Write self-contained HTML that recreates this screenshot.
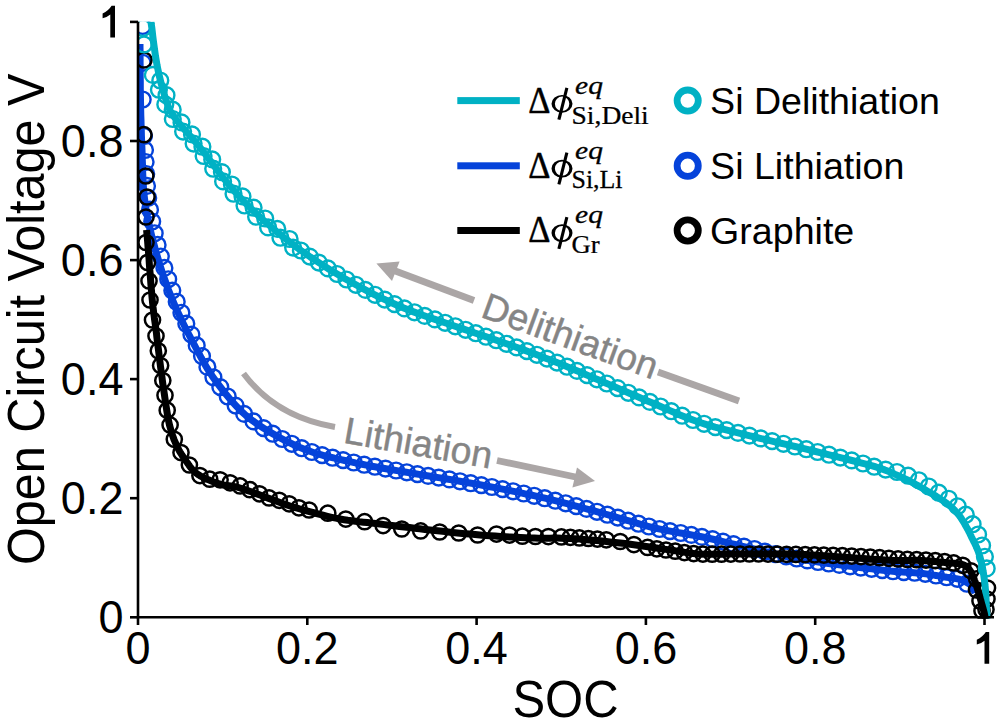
<!DOCTYPE html>
<html><head><meta charset="utf-8"><title>OCV vs SOC</title>
<style>html,body{margin:0;padding:0;background:#fff;width:1000px;height:720px;overflow:hidden}svg{display:block}</style>
</head><body>
<svg width="1000" height="720" viewBox="0 0 1000 720">
<defs><clipPath id="pc"><rect x="138" y="21.7" width="862" height="597"/></clipPath></defs>
<rect width="1000" height="720" fill="#fff"/>
<g clip-path="url(#pc)">
<g fill="none" stroke="#0543DA" stroke-width="2.40"><circle cx="142.7" cy="26.0" r="7.9"/><circle cx="142.7" cy="62.8" r="7.9"/><circle cx="142.7" cy="99.5" r="7.9"/><circle cx="144.0" cy="136.0" r="7.9"/><circle cx="145.0" cy="150.0" r="7.9"/><circle cx="145.6" cy="162.0" r="7.9"/><circle cx="146.2" cy="174.0" r="7.9"/><circle cx="147.0" cy="185.9" r="7.9"/><circle cx="148.2" cy="197.9" r="7.9"/><circle cx="150.0" cy="209.7" r="7.9"/><circle cx="152.2" cy="221.5" r="7.9"/><circle cx="154.7" cy="233.3" r="7.9"/><circle cx="157.6" cy="244.9" r="7.9"/><circle cx="160.8" cy="256.5" r="7.9"/><circle cx="164.4" cy="267.9" r="7.9"/><circle cx="168.2" cy="279.3" r="7.9"/><circle cx="172.3" cy="290.6" r="7.9"/><circle cx="176.7" cy="301.8" r="7.9"/><circle cx="181.4" cy="312.8" r="7.9"/><circle cx="186.3" cy="323.7" r="7.9"/><circle cx="191.4" cy="334.6" r="7.9"/><circle cx="196.7" cy="345.4" r="7.9"/><circle cx="202.0" cy="356.1" r="7.9"/><circle cx="207.4" cy="366.9" r="7.9"/><circle cx="213.4" cy="377.3" r="7.9"/><circle cx="220.3" cy="387.1" r="7.9"/><circle cx="227.7" cy="396.5" r="7.9"/><circle cx="235.6" cy="405.6" r="7.9"/><circle cx="244.2" cy="413.9" r="7.9"/><circle cx="253.5" cy="421.4" r="7.9"/><circle cx="263.5" cy="428.1" r="7.9"/><circle cx="272.7" cy="433.7" r="7.9"/><circle cx="282.2" cy="439.0" r="7.9"/><circle cx="291.8" cy="443.8" r="7.9"/><circle cx="301.7" cy="448.2" r="7.9"/><circle cx="311.8" cy="452.0" r="7.9"/><circle cx="322.1" cy="455.1" r="7.9"/><circle cx="332.6" cy="457.7" r="7.9"/><circle cx="343.1" cy="460.1" r="7.9"/><circle cx="353.7" cy="462.5" r="7.9"/><circle cx="364.2" cy="464.7" r="7.9"/><circle cx="374.9" cy="466.7" r="7.9"/><circle cx="385.5" cy="468.6" r="7.9"/><circle cx="396.1" cy="470.5" r="7.9"/><circle cx="406.8" cy="472.3" r="7.9"/><circle cx="417.4" cy="474.1" r="7.9"/><circle cx="428.1" cy="475.9" r="7.9"/><circle cx="438.7" cy="477.6" r="7.9"/><circle cx="449.4" cy="479.4" r="7.9"/><circle cx="460.0" cy="481.3" r="7.9"/><circle cx="470.7" cy="483.2" r="7.9"/><circle cx="481.3" cy="485.1" r="7.9"/><circle cx="491.9" cy="487.0" r="7.9"/><circle cx="502.5" cy="489.1" r="7.9"/><circle cx="513.1" cy="491.3" r="7.9"/><circle cx="523.7" cy="493.5" r="7.9"/><circle cx="534.2" cy="495.8" r="7.9"/><circle cx="544.7" cy="498.2" r="7.9"/><circle cx="555.3" cy="500.7" r="7.9"/><circle cx="565.7" cy="503.3" r="7.9"/><circle cx="576.2" cy="506.1" r="7.9"/><circle cx="586.6" cy="508.9" r="7.9"/><circle cx="597.0" cy="511.8" r="7.9"/><circle cx="607.4" cy="514.7" r="7.9"/><circle cx="617.8" cy="517.6" r="7.9"/><circle cx="628.1" cy="520.7" r="7.9"/><circle cx="638.5" cy="523.7" r="7.9"/><circle cx="648.9" cy="526.5" r="7.9"/><circle cx="659.5" cy="529.0" r="7.9"/><circle cx="670.0" cy="531.1" r="7.9"/><circle cx="680.7" cy="533.0" r="7.9"/><circle cx="691.3" cy="534.9" r="7.9"/><circle cx="701.9" cy="536.9" r="7.9"/><circle cx="712.5" cy="539.1" r="7.9"/><circle cx="723.0" cy="541.6" r="7.9"/><circle cx="733.5" cy="544.1" r="7.9"/><circle cx="744.0" cy="546.6" r="7.9"/><circle cx="754.5" cy="549.0" r="7.9"/><circle cx="765.0" cy="551.6" r="7.9"/><circle cx="775.5" cy="554.1" r="7.9"/><circle cx="786.1" cy="556.4" r="7.9"/><circle cx="796.7" cy="558.5" r="7.9"/><circle cx="807.3" cy="560.4" r="7.9"/><circle cx="818.0" cy="562.0" r="7.9"/><circle cx="828.7" cy="563.5" r="7.9"/><circle cx="839.4" cy="564.9" r="7.9"/><circle cx="850.1" cy="566.3" r="7.9"/><circle cx="860.8" cy="567.6" r="7.9"/><circle cx="871.6" cy="568.8" r="7.9"/><circle cx="882.3" cy="570.1" r="7.9"/><circle cx="893.0" cy="571.2" r="7.9"/><circle cx="903.8" cy="572.1" r="7.9"/><circle cx="914.6" cy="572.7" r="7.9"/><circle cx="925.3" cy="573.8" r="7.9"/><circle cx="936.0" cy="575.5" r="7.9"/><circle cx="946.6" cy="577.2" r="7.9"/><circle cx="957.3" cy="578.8" r="7.9"/><circle cx="966.9" cy="583.7" r="7.9"/></g>
<path d="M140.0,44.0 L140.0,47.4 L140.1,51.7 L140.1,56.9 L140.1,62.7 L140.2,68.9 L140.2,75.3 L140.3,81.9 L140.3,88.3 L140.4,94.4 L140.5,100.0 L140.6,105.2 L140.7,110.4 L140.8,115.4 L141.0,120.4 L141.1,125.4 L141.3,130.3 L141.4,135.2 L141.6,140.1 L141.8,145.0 L142.0,150.0 L142.2,155.0 L142.3,160.0 L142.5,165.0 L142.6,170.0 L142.8,175.0 L143.0,180.0 L143.3,185.0 L143.6,190.0 L144.1,195.0 L144.7,200.0 L145.4,205.0 L146.2,210.0 L147.1,215.0 L148.1,220.0 L149.2,225.0 L150.3,230.0 L151.5,235.0 L152.8,240.0 L154.1,245.0 L155.5,250.0 L156.9,255.0 L158.4,260.0 L159.9,265.0 L161.5,270.0 L163.1,275.0 L164.9,280.0 L166.7,285.0 L168.5,290.0 L170.5,295.0 L172.5,300.0 L174.7,305.1 L177.0,310.3 L179.4,315.5 L181.9,320.8 L184.5,326.0 L187.1,331.2 L189.7,336.2 L192.2,341.0 L194.7,345.6 L197.0,350.0 L199.2,354.0 L201.2,357.8 L203.2,361.4 L205.1,364.7 L207.0,368.0 L209.0,371.1 L211.0,374.2 L213.2,377.4 L215.5,380.6 L218.0,384.0 L220.7,387.5 L223.4,391.0 L226.2,394.6 L229.1,398.1 L232.2,401.7 L235.4,405.2 L238.7,408.7 L242.3,412.2 L246.0,415.5 L250.0,418.8 L254.3,421.9 L258.8,425.1 L263.7,428.3 L268.7,431.4 L273.9,434.4 L279.1,437.3 L284.4,440.1 L289.7,442.8 L294.9,445.2 L300.0,447.5 L305.0,449.5 L309.9,451.3 L314.8,453.0 L319.8,454.4 L324.7,455.8 L329.6,457.0 L334.6,458.2 L339.7,459.3 L344.8,460.5 L350.0,461.7 L355.3,462.9 L360.8,464.0 L366.3,465.1 L371.9,466.2 L377.5,467.2 L383.1,468.2 L388.7,469.2 L394.2,470.1 L399.7,471.1 L405.0,472.0 L410.2,472.9 L415.3,473.8 L420.4,474.6 L425.4,475.5 L430.3,476.3 L435.2,477.1 L440.2,477.9 L445.1,478.7 L450.0,479.5 L455.0,480.4 L460.0,481.3 L465.0,482.2 L470.0,483.0 L475.0,483.9 L480.0,484.8 L485.0,485.8 L490.0,486.7 L495.0,487.6 L500.0,488.6 L505.0,489.6 L510.0,490.6 L515.0,491.6 L520.0,492.7 L525.0,493.8 L530.0,494.8 L535.0,495.9 L540.0,497.1 L545.0,498.2 L550.0,499.4 L555.0,500.6 L560.0,501.8 L565.0,503.1 L570.0,504.4 L575.0,505.8 L580.0,507.1 L585.0,508.5 L590.0,509.9 L595.0,511.2 L600.0,512.6 L605.0,514.0 L610.0,515.4 L615.0,516.8 L620.0,518.3 L625.0,519.8 L630.0,521.2 L635.0,522.7 L640.0,524.1 L645.0,525.5 L650.0,526.8 L655.0,528.0 L660.0,529.1 L665.1,530.2 L670.2,531.1 L675.2,532.1 L680.3,533.0 L685.4,533.8 L690.4,534.7 L695.3,535.6 L700.2,536.5 L705.0,537.5 L709.7,538.5 L714.2,539.5 L718.6,540.5 L722.9,541.6 L727.2,542.6 L731.5,543.6 L735.9,544.7 L740.4,545.8 L745.1,546.9 L750.0,548.0 L755.0,549.1 L760.0,550.3 L765.0,551.5 L770.1,552.8 L775.3,554.0 L780.7,555.2 L786.3,556.5 L792.2,557.7 L798.4,558.9 L805.0,560.0 L812.2,561.1 L820.1,562.3 L828.6,563.5 L837.4,564.6 L846.2,565.8 L855.0,566.9 L863.5,567.9 L871.5,568.8 L878.7,569.7 L885.0,570.4 L890.4,571.0 L895.0,571.4 L899.1,571.8 L902.7,572.0 L905.9,572.2 L908.9,572.4 L911.7,572.5 L914.4,572.7 L917.1,572.9 L920.0,573.2 L923.0,573.5 L925.8,573.9 L928.5,574.3 L931.2,574.7 L933.8,575.1 L936.2,575.5 L938.5,575.9 L940.8,576.3 L943.0,576.7 L945.0,577.0 L946.9,577.3 L948.7,577.5 L950.4,577.8 L951.9,578.0 L953.4,578.2 L954.8,578.4 L956.1,578.6 L957.4,578.9 L958.7,579.2 L960.0,579.6 L961.3,580.0 L962.6,580.5 L963.9,581.1 L965.1,581.6 L966.3,582.2 L967.4,582.9 L968.5,583.5 L969.5,584.2 L970.4,584.8 L971.2,585.5 L971.9,586.2 L972.5,587.0 L973.0,587.9 L973.4,588.7 L973.8,589.6 L974.1,590.5 L974.4,591.3 L974.6,592.0 L974.8,592.5 L975.0,593.0" fill="none" stroke="#0543DA" stroke-width="7" stroke-linejoin="round"/>
<g fill="none" stroke="#000000" stroke-width="2.50"><circle cx="144.0" cy="60.0" r="7.6"/><circle cx="144.0" cy="134.7" r="7.6"/><circle cx="145.8" cy="176.0" r="7.6"/><circle cx="147.0" cy="197.0" r="7.6"/><circle cx="146.0" cy="217.0" r="7.6"/><circle cx="146.0" cy="242.5" r="7.6"/><circle cx="147.5" cy="262.5" r="7.6"/><circle cx="149.0" cy="281.0" r="7.6"/><circle cx="150.0" cy="300.0" r="7.6"/><circle cx="152.5" cy="320.0" r="7.6"/><circle cx="156.0" cy="336.0" r="7.6"/><circle cx="158.3" cy="350.8" r="7.6"/><circle cx="160.6" cy="365.6" r="7.6"/><circle cx="162.8" cy="380.5" r="7.6"/><circle cx="165.0" cy="395.3" r="7.6"/><circle cx="167.2" cy="410.2" r="7.6"/><circle cx="170.1" cy="424.9" r="7.6"/><circle cx="174.3" cy="439.3" r="7.6"/><circle cx="181.0" cy="452.6" r="7.6"/><circle cx="189.4" cy="465.0" r="7.6"/><circle cx="199.9" cy="475.6" r="7.6"/><circle cx="209.7" cy="479.2" r="7.6"/><circle cx="220.1" cy="479.8" r="7.6"/><circle cx="230.1" cy="482.8" r="7.6"/><circle cx="240.1" cy="485.9" r="7.6"/><circle cx="249.9" cy="489.7" r="7.6"/><circle cx="259.5" cy="493.8" r="7.6"/><circle cx="269.1" cy="497.9" r="7.6"/><circle cx="279.3" cy="500.3" r="7.6"/><circle cx="289.2" cy="503.8" r="7.6"/><circle cx="298.9" cy="507.8" r="7.6"/><circle cx="309.1" cy="510.0" r="7.6"/><circle cx="327.8" cy="513.2" r="7.6"/><circle cx="345.8" cy="519.1" r="7.6"/><circle cx="364.6" cy="521.7" r="7.6"/><circle cx="383.1" cy="525.6" r="7.6"/><circle cx="401.8" cy="529.0" r="7.6"/><circle cx="420.7" cy="530.9" r="7.6"/><circle cx="439.7" cy="532.0" r="7.6"/><circle cx="458.7" cy="533.0" r="7.6"/><circle cx="477.6" cy="535.0" r="7.6"/><circle cx="496.5" cy="534.1" r="7.6"/><circle cx="509.5" cy="535.1" r="7.6"/><circle cx="522.4" cy="536.2" r="7.6"/><circle cx="535.4" cy="536.5" r="7.6"/><circle cx="548.4" cy="536.6" r="7.6"/><circle cx="561.4" cy="536.9" r="7.6"/><circle cx="570.4" cy="537.3" r="7.6"/><circle cx="579.4" cy="537.9" r="7.6"/><circle cx="588.4" cy="538.5" r="7.6"/><circle cx="597.4" cy="539.1" r="7.6"/><circle cx="606.3" cy="539.8" r="7.6"/><circle cx="620.2" cy="541.5" r="7.6"/><circle cx="633.9" cy="544.6" r="7.6"/><circle cx="647.6" cy="547.4" r="7.6"/><circle cx="656.8" cy="548.8" r="7.6"/><circle cx="666.0" cy="550.0" r="7.6"/><circle cx="675.2" cy="551.2" r="7.6"/><circle cx="684.4" cy="552.6" r="7.6"/><circle cx="693.7" cy="553.6" r="7.6"/><circle cx="702.9" cy="554.1" r="7.6"/><circle cx="712.2" cy="554.2" r="7.6"/><circle cx="721.5" cy="554.2" r="7.6"/><circle cx="730.8" cy="554.1" r="7.6"/><circle cx="740.1" cy="554.0" r="7.6"/><circle cx="749.4" cy="554.0" r="7.6"/><circle cx="758.7" cy="554.0" r="7.6"/><circle cx="768.0" cy="554.1" r="7.6"/><circle cx="777.3" cy="554.2" r="7.6"/><circle cx="786.6" cy="554.3" r="7.6"/><circle cx="795.9" cy="554.4" r="7.6"/><circle cx="805.2" cy="554.6" r="7.6"/><circle cx="814.5" cy="554.8" r="7.6"/><circle cx="823.8" cy="555.1" r="7.6"/><circle cx="833.1" cy="555.3" r="7.6"/><circle cx="842.4" cy="555.7" r="7.6"/><circle cx="851.7" cy="556.1" r="7.6"/><circle cx="861.0" cy="556.6" r="7.6"/><circle cx="870.3" cy="557.1" r="7.6"/><circle cx="879.6" cy="557.7" r="7.6"/><circle cx="888.9" cy="558.3" r="7.6"/><circle cx="898.1" cy="558.9" r="7.6"/><circle cx="907.4" cy="559.4" r="7.6"/><circle cx="916.7" cy="559.7" r="7.6"/><circle cx="926.0" cy="560.1" r="7.6"/><circle cx="935.3" cy="560.6" r="7.6"/><circle cx="944.6" cy="561.5" r="7.6"/><circle cx="953.7" cy="562.9" r="7.6"/><circle cx="962.7" cy="565.3" r="7.6"/><circle cx="970.9" cy="570.8" r="7.6"/><circle cx="976.7" cy="578.9" r="7.6"/><circle cx="976.5" cy="590.0" r="7.6"/><circle cx="980.0" cy="601.0" r="7.6"/><circle cx="987.5" cy="588.0" r="7.6"/><circle cx="987.0" cy="599.0" r="7.6"/><circle cx="986.0" cy="609.6" r="7.6"/><circle cx="982.0" cy="611.0" r="7.6"/></g>
<g fill="none" stroke="#00B1C4" stroke-width="2.40"><circle cx="143.0" cy="28.0" r="7.9"/><circle cx="144.0" cy="44.5" r="7.9"/><circle cx="152.8" cy="74.9" r="7.9"/><circle cx="160.3" cy="80.5" r="7.9"/><circle cx="158.9" cy="89.7" r="7.9"/><circle cx="166.5" cy="95.2" r="7.9"/><circle cx="165.3" cy="104.4" r="7.9"/><circle cx="172.7" cy="109.7" r="7.9"/><circle cx="172.8" cy="119.0" r="7.9"/><circle cx="181.5" cy="122.4" r="7.9"/><circle cx="183.1" cy="131.6" r="7.9"/><circle cx="192.0" cy="134.4" r="7.9"/><circle cx="193.6" cy="143.6" r="7.9"/><circle cx="202.4" cy="146.7" r="7.9"/><circle cx="203.6" cy="156.0" r="7.9"/><circle cx="212.2" cy="159.4" r="7.9"/><circle cx="213.2" cy="168.7" r="7.9"/><circle cx="221.9" cy="172.1" r="7.9"/><circle cx="223.1" cy="181.4" r="7.9"/><circle cx="231.9" cy="184.5" r="7.9"/><circle cx="233.5" cy="193.7" r="7.9"/><circle cx="242.5" cy="196.4" r="7.9"/><circle cx="244.5" cy="205.5" r="7.9"/><circle cx="253.6" cy="207.7" r="7.9"/><circle cx="256.1" cy="216.7" r="7.9"/><circle cx="265.2" cy="218.5" r="7.9"/><circle cx="268.1" cy="227.4" r="7.9"/><circle cx="277.3" cy="228.9" r="7.9"/><circle cx="280.4" cy="237.7" r="7.9"/><circle cx="289.6" cy="239.0" r="7.9"/><circle cx="293.1" cy="247.6" r="7.9"/><circle cx="300.9" cy="250.5" r="7.9"/><circle cx="309.8" cy="256.6" r="7.9"/><circle cx="318.8" cy="262.6" r="7.9"/><circle cx="327.9" cy="268.4" r="7.9"/><circle cx="337.1" cy="274.0" r="7.9"/><circle cx="346.5" cy="279.5" r="7.9"/><circle cx="355.9" cy="284.8" r="7.9"/><circle cx="365.4" cy="289.9" r="7.9"/><circle cx="375.0" cy="294.8" r="7.9"/><circle cx="384.7" cy="299.6" r="7.9"/><circle cx="394.5" cy="304.1" r="7.9"/><circle cx="404.4" cy="308.4" r="7.9"/><circle cx="414.5" cy="312.3" r="7.9"/><circle cx="424.7" cy="315.9" r="7.9"/><circle cx="434.9" cy="319.4" r="7.9"/><circle cx="445.1" cy="322.8" r="7.9"/><circle cx="455.3" cy="326.3" r="7.9"/><circle cx="465.6" cy="329.8" r="7.9"/><circle cx="475.8" cy="333.2" r="7.9"/><circle cx="486.0" cy="336.7" r="7.9"/><circle cx="496.3" cy="340.2" r="7.9"/><circle cx="506.4" cy="343.8" r="7.9"/><circle cx="516.6" cy="347.4" r="7.9"/><circle cx="526.8" cy="351.1" r="7.9"/><circle cx="536.9" cy="354.8" r="7.9"/><circle cx="547.0" cy="358.6" r="7.9"/><circle cx="557.0" cy="362.6" r="7.9"/><circle cx="567.0" cy="366.7" r="7.9"/><circle cx="577.0" cy="370.9" r="7.9"/><circle cx="587.0" cy="375.1" r="7.9"/><circle cx="596.9" cy="379.3" r="7.9"/><circle cx="606.8" cy="383.5" r="7.9"/><circle cx="617.6" cy="388.1" r="7.9"/><circle cx="628.3" cy="392.8" r="7.9"/><circle cx="639.1" cy="397.4" r="7.9"/><circle cx="649.9" cy="401.9" r="7.9"/><circle cx="660.6" cy="406.5" r="7.9"/><circle cx="671.3" cy="411.2" r="7.9"/><circle cx="682.1" cy="415.7" r="7.9"/><circle cx="693.0" cy="420.0" r="7.9"/><circle cx="704.1" cy="423.8" r="7.9"/><circle cx="715.3" cy="427.1" r="7.9"/><circle cx="726.6" cy="430.1" r="7.9"/><circle cx="738.0" cy="432.9" r="7.9"/><circle cx="749.4" cy="435.6" r="7.9"/><circle cx="760.7" cy="438.4" r="7.9"/><circle cx="772.1" cy="441.1" r="7.9"/><circle cx="783.5" cy="443.8" r="7.9"/><circle cx="794.9" cy="446.5" r="7.9"/><circle cx="806.3" cy="449.2" r="7.9"/><circle cx="817.6" cy="452.0" r="7.9"/><circle cx="829.0" cy="454.7" r="7.9"/><circle cx="840.3" cy="457.6" r="7.9"/><circle cx="851.7" cy="460.4" r="7.9"/><circle cx="863.0" cy="463.5" r="7.9"/><circle cx="874.2" cy="466.7" r="7.9"/><circle cx="885.6" cy="469.6" r="7.9"/><circle cx="897.0" cy="472.0" r="7.9"/><circle cx="908.1" cy="475.7" r="7.9"/><circle cx="918.9" cy="480.3" r="7.9"/><circle cx="928.8" cy="486.5" r="7.9"/><circle cx="938.7" cy="492.7" r="7.9"/><circle cx="948.7" cy="498.8" r="7.9"/><circle cx="957.6" cy="506.3" r="7.9"/><circle cx="965.8" cy="514.7" r="7.9"/><circle cx="972.6" cy="524.2" r="7.9"/><circle cx="978.1" cy="534.5" r="7.9"/><circle cx="982.1" cy="545.5" r="7.9"/><circle cx="984.9" cy="556.8" r="7.9"/><circle cx="986.7" cy="568.4" r="7.9"/></g>
<path d="M151.0,21.7 L151.3,24.3 L151.8,27.7 L152.3,31.8 L152.8,36.3 L153.4,41.2 L154.1,46.2 L154.8,51.3 L155.5,56.2 L156.3,60.8 L157.0,65.0 L157.8,68.9 L158.6,72.8 L159.5,76.6 L160.4,80.4 L161.3,84.1 L162.3,87.6 L163.2,91.0 L164.2,94.2 L165.1,97.2 L166.0,100.0 L166.8,102.4 L167.5,104.5 L168.2,106.3 L168.8,107.9 L169.5,109.3 L170.2,110.8 L171.1,112.3 L172.2,113.9 L173.5,115.8 L175.0,118.0 L176.8,120.4 L178.9,123.0 L181.2,125.7 L183.6,128.5 L186.2,131.5 L188.9,134.5 L191.6,137.6 L194.4,140.8 L197.2,144.1 L200.0,147.5 L202.8,151.0 L205.7,154.7 L208.6,158.6 L211.6,162.6 L214.7,166.7 L217.8,170.7 L220.8,174.7 L223.9,178.6 L227.0,182.4 L230.0,186.0 L233.0,189.4 L235.8,192.6 L238.7,195.8 L241.5,198.8 L244.3,201.8 L247.2,204.8 L250.2,207.8 L253.3,210.8 L256.6,213.8 L260.0,217.0 L263.6,220.3 L267.4,223.6 L271.2,226.9 L275.2,230.3 L279.3,233.8 L283.5,237.2 L287.8,240.6 L292.1,243.9 L296.5,247.2 L301.0,250.5 L305.6,253.7 L310.3,257.0 L315.1,260.2 L320.0,263.4 L324.9,266.5 L329.9,269.7 L335.0,272.7 L340.0,275.7 L345.0,278.7 L350.0,281.5 L355.0,284.3 L359.9,287.0 L364.9,289.7 L369.9,292.3 L374.9,294.8 L380.0,297.3 L385.0,299.7 L390.0,302.0 L395.0,304.3 L400.0,306.5 L405.0,308.6 L410.0,310.6 L415.0,312.4 L420.0,314.3 L425.0,316.0 L430.0,317.7 L435.0,319.4 L440.0,321.1 L445.0,322.8 L450.0,324.5 L455.0,326.2 L460.0,327.9 L465.0,329.6 L470.0,331.3 L475.0,333.0 L480.0,334.7 L485.0,336.3 L490.0,338.0 L495.0,339.8 L500.0,341.5 L505.0,343.3 L510.0,345.0 L515.0,346.8 L520.0,348.6 L525.0,350.4 L530.0,352.2 L535.0,354.1 L540.0,356.0 L545.0,357.9 L550.0,359.8 L555.0,361.8 L560.0,363.8 L565.0,365.8 L570.0,367.9 L575.0,370.0 L580.0,372.1 L585.0,374.2 L590.0,376.4 L595.0,378.5 L600.0,380.6 L605.0,382.7 L610.0,384.9 L615.0,387.0 L620.0,389.2 L625.0,391.3 L630.0,393.5 L635.0,395.6 L640.0,397.8 L645.0,399.9 L650.0,402.0 L655.0,404.1 L660.0,406.3 L665.0,408.4 L670.0,410.6 L675.0,412.8 L680.0,414.9 L685.0,416.9 L690.0,418.9 L695.0,420.7 L700.0,422.5 L705.0,424.1 L710.0,425.6 L715.0,427.1 L720.0,428.4 L725.0,429.7 L730.0,430.9 L735.0,432.1 L740.0,433.3 L745.0,434.6 L750.0,435.8 L755.0,437.0 L760.0,438.3 L765.0,439.5 L770.0,440.6 L775.0,441.8 L780.0,443.0 L785.0,444.1 L790.0,445.3 L795.0,446.5 L800.0,447.7 L805.1,448.9 L810.3,450.2 L815.6,451.5 L821.0,452.8 L826.2,454.1 L831.4,455.3 L836.5,456.6 L841.3,457.8 L845.8,458.9 L850.0,460.0 L853.9,461.0 L857.4,461.9 L860.8,462.8 L863.9,463.6 L866.9,464.4 L869.7,465.2 L872.4,465.9 L875.0,466.7 L877.5,467.5 L880.0,468.3 L882.4,469.1 L884.7,469.9 L886.9,470.8 L888.9,471.6 L890.9,472.4 L892.8,473.2 L894.6,474.1 L896.4,474.9 L898.2,475.7 L900.0,476.5 L901.7,477.3 L903.3,478.0 L904.7,478.7 L906.1,479.3 L907.5,480.0 L908.9,480.7 L910.4,481.5 L912.1,482.4 L913.9,483.4 L916.0,484.6 L918.4,485.9 L921.1,487.5 L924.0,489.1 L927.0,490.9 L930.1,492.7 L933.2,494.6 L936.3,496.4 L939.1,498.2 L941.7,499.9 L944.0,501.4 L946.0,502.8 L947.8,504.2 L949.4,505.5 L950.9,506.7 L952.2,507.9 L953.5,509.1 L954.7,510.3 L955.8,511.5 L956.9,512.7 L958.0,514.0 L959.1,515.3 L960.1,516.6 L961.0,517.9 L961.9,519.3 L962.7,520.6 L963.5,521.9 L964.3,523.2 L965.0,524.5 L965.7,525.8 L966.4,527.0 L967.1,528.2 L967.7,529.3 L968.3,530.4 L968.8,531.5 L969.4,532.5 L969.9,533.6 L970.4,534.7 L970.9,535.7 L971.4,536.9 L972.0,538.0 L972.6,539.2 L973.2,540.4 L973.8,541.6 L974.4,542.8 L975.0,544.0 L975.6,545.3 L976.2,546.5 L976.8,547.8 L977.3,549.0 L977.8,550.3 L978.3,551.5 L978.7,552.8 L979.1,554.0 L979.5,555.3 L979.9,556.5 L980.2,557.8 L980.5,559.1 L980.9,560.4 L981.2,561.7 L981.5,563.0 L981.8,564.3 L982.1,565.7 L982.4,567.1 L982.6,568.5 L982.9,569.9 L983.1,571.3 L983.4,572.7 L983.6,574.1 L983.8,575.6 L984.0,577.0 L984.2,578.4 L984.4,579.8 L984.6,581.2 L984.7,582.5 L984.9,583.9 L985.0,585.3 L985.2,586.8 L985.3,588.4 L985.5,590.0 L985.6,591.7 L985.7,593.6 L985.9,595.7 L986.0,597.8 L986.1,600.1 L986.2,602.4 L986.3,604.7 L986.4,606.9 L986.5,609.0 L986.6,610.9 L986.7,612.5 L986.8,614.0 L986.8,615.3 L986.9,616.5 L986.9,617.6 L986.9,618.5 L986.9,619.4 L987.0,620.2 L987.0,620.9 L987.0,621.5 L987.0,622.0" fill="none" stroke="#00B1C4" stroke-width="7" stroke-linejoin="round"/>
<path d="M146.6,230.0 L146.7,231.1 L146.8,232.2 L146.9,233.6 L147.0,235.1 L147.2,236.9 L147.4,238.9 L147.6,241.2 L147.8,243.8 L148.0,246.7 L148.3,250.0 L148.6,253.9 L149.0,258.4 L149.3,263.4 L149.7,268.8 L150.2,274.4 L150.6,280.0 L151.0,285.5 L151.5,290.8 L151.9,295.7 L152.3,300.0 L152.7,303.8 L153.0,307.1 L153.4,310.2 L153.7,313.0 L154.1,315.6 L154.4,318.2 L154.8,320.9 L155.2,323.7 L155.6,326.7 L156.0,330.0 L156.5,333.6 L156.9,337.5 L157.4,341.6 L157.9,345.8 L158.5,350.0 L159.0,354.2 L159.5,358.4 L160.0,362.5 L160.5,366.4 L161.0,370.0 L161.5,373.4 L161.9,376.7 L162.3,379.9 L162.7,383.0 L163.1,385.9 L163.6,388.8 L164.0,391.7 L164.4,394.5 L164.8,397.2 L165.2,400.0 L165.6,402.7 L166.0,405.4 L166.4,408.0 L166.8,410.6 L167.2,413.1 L167.6,415.6 L168.0,418.0 L168.5,420.4 L169.0,422.7 L169.5,425.0 L170.1,427.2 L170.7,429.4 L171.3,431.5 L171.9,433.6 L172.6,435.6 L173.3,437.5 L174.0,439.5 L174.8,441.3 L175.6,443.2 L176.4,445.0 L177.2,446.8 L178.1,448.5 L179.0,450.2 L179.9,451.8 L180.9,453.4 L181.9,455.0 L182.9,456.5 L183.9,458.0 L184.9,459.5 L186.0,461.0 L187.1,462.5 L188.1,463.9 L189.1,465.4 L190.1,466.8 L191.2,468.2 L192.4,469.5 L193.6,470.8 L194.9,472.1 L196.4,473.3 L198.0,474.5 L199.8,475.6 L201.8,476.7 L203.9,477.8 L206.2,478.9 L208.5,479.8 L210.9,480.8 L213.2,481.7 L215.6,482.5 L217.8,483.3 L220.0,484.0 L222.0,484.6 L223.8,485.0 L225.5,485.3 L227.2,485.5 L228.9,485.7 L230.7,485.9 L232.6,486.2 L234.8,486.6 L237.2,487.2 L240.0,488.0 L243.3,489.1 L247.0,490.4 L251.2,491.8 L255.5,493.4 L260.0,495.1 L264.5,496.8 L268.8,498.4 L273.0,499.9 L276.7,501.3 L280.0,502.5 L282.7,503.5 L285.0,504.3 L286.8,504.9 L288.5,505.5 L290.0,506.0 L291.5,506.5 L293.2,507.0 L295.0,507.6 L297.3,508.2 L300.0,509.0 L303.2,509.9 L306.7,510.9 L310.5,511.9 L314.6,513.0 L318.8,514.1 L323.0,515.2 L327.4,516.3 L331.7,517.3 L335.9,518.2 L340.0,519.0 L344.0,519.7 L347.8,520.3 L351.7,520.8 L355.5,521.3 L359.4,521.8 L363.3,522.2 L367.3,522.6 L371.4,523.0 L375.6,523.5 L380.0,524.0 L384.6,524.6 L389.4,525.2 L394.3,525.8 L399.3,526.4 L404.4,527.0 L409.5,527.6 L414.7,528.2 L419.8,528.8 L425.0,529.4 L430.0,530.0 L435.0,530.5 L440.0,531.1 L445.0,531.6 L450.0,532.2 L455.0,532.7 L460.0,533.2 L465.0,533.7 L470.0,534.1 L475.0,534.6 L480.0,535.0 L485.0,535.4 L490.2,535.8 L495.3,536.1 L500.5,536.5 L505.6,536.8 L510.7,537.1 L515.7,537.3 L520.6,537.6 L525.4,537.8 L530.0,538.0 L534.4,538.1 L538.5,538.2 L542.4,538.2 L546.2,538.2 L550.0,538.2 L553.8,538.1 L557.6,538.1 L561.5,538.2 L565.6,538.3 L570.0,538.5 L574.6,538.8 L579.4,539.1 L584.3,539.5 L589.3,539.9 L594.4,540.3 L599.5,540.8 L604.7,541.3 L609.8,541.9 L615.0,542.4 L620.0,543.0 L625.1,543.6 L630.3,544.3 L635.6,545.0 L641.0,545.8 L646.2,546.5 L651.4,547.3 L656.5,548.0 L661.3,548.8 L665.8,549.4 L670.0,550.0 L673.7,550.5 L677.0,551.1 L679.8,551.5 L682.5,552.0 L685.0,552.4 L687.5,552.8 L690.2,553.2 L693.0,553.5 L696.3,553.8 L700.0,554.0 L704.2,554.2 L708.6,554.2 L713.4,554.3 L718.3,554.3 L723.4,554.2 L728.7,554.1 L734.0,554.1 L739.4,554.0 L744.7,554.0 L750.0,554.0 L755.2,554.0 L760.3,554.0 L765.3,554.0 L770.4,554.0 L775.6,554.0 L781.0,554.0 L786.5,554.0 L792.3,554.2 L798.5,554.3 L805.0,554.6 L812.2,555.0 L820.1,555.5 L828.6,556.0 L837.4,556.7 L846.2,557.3 L855.0,558.0 L863.5,558.6 L871.5,559.2 L878.7,559.6 L885.0,560.0 L890.4,560.2 L895.0,560.4 L899.1,560.4 L902.7,560.4 L905.9,560.4 L908.9,560.4 L911.7,560.3 L914.4,560.3 L917.1,560.3 L920.0,560.4 L923.0,560.5 L925.8,560.7 L928.5,560.9 L931.2,561.1 L933.8,561.4 L936.2,561.6 L938.5,561.9 L940.8,562.1 L943.0,562.3 L945.0,562.5 L946.9,562.7 L948.8,562.8 L950.5,562.9 L952.1,563.1 L953.6,563.2 L955.1,563.3 L956.4,563.5 L957.7,563.6 L958.9,563.8 L960.0,564.0 L961.0,564.2 L961.9,564.4 L962.8,564.7 L963.5,564.9 L964.1,565.2 L964.7,565.4 L965.3,565.8 L965.9,566.1 L966.4,566.5 L967.0,567.0 L967.6,567.5 L968.2,568.1 L968.7,568.7 L969.2,569.4 L969.7,570.1 L970.2,570.9 L970.7,571.6 L971.1,572.4 L971.6,573.2 L972.0,574.0 L972.4,574.8 L972.8,575.7 L973.2,576.6 L973.5,577.5 L973.9,578.4 L974.2,579.3 L974.5,580.3 L974.9,581.2 L975.2,582.1 L975.5,583.0 L975.8,583.9 L976.1,584.7 L976.4,585.6 L976.7,586.4 L976.9,587.2 L977.2,588.0 L977.5,588.9 L977.7,589.8 L978.0,590.7 L978.3,591.7 L978.6,592.7 L978.9,593.8 L979.2,594.9 L979.6,596.0 L979.9,597.2 L980.2,598.3 L980.5,599.5 L980.9,600.7 L981.2,601.8 L981.5,603.0 L981.8,604.2 L982.2,605.4 L982.5,606.6 L982.9,607.8 L983.2,609.0 L983.5,610.2 L983.8,611.4 L984.1,612.5 L984.4,613.6 L984.6,614.6 L984.8,615.5 L984.9,616.5 L985.1,617.4 L985.2,618.2 L985.2,619.0 L985.3,619.8 L985.4,620.5 L985.4,621.1 L985.5,621.6 L985.5,622.0" fill="none" stroke="#000000" stroke-width="7" stroke-linejoin="round"/>
</g>
<g stroke="#000" stroke-width="2.6" fill="none">
<path d="M138,21.7 V618.5 M136.7,617.3 H994"/>
<path d="M130,617.3 H138"/>
<path d="M130,498.2 H138"/>
<path d="M130,379.1 H138"/>
<path d="M130,260.1 H138"/>
<path d="M130,141.0 H138"/>
<path d="M130,21.9 H138"/>
<path d="M138.0,617.3 V625"/>
<path d="M307.3,617.3 V625"/>
<path d="M476.6,617.3 V625"/>
<path d="M645.9,617.3 V625"/>
<path d="M815.2,617.3 V625"/>
<path d="M984.5,617.3 V625"/>
</g>
<g font-family="'Liberation Sans', sans-serif" font-size="45" fill="#000">
<text transform="translate(123.4,633.1) scale(1,1.045)" text-anchor="end">0</text>
<text transform="translate(123.4,514.0) scale(1,1.045)" text-anchor="end">0.2</text>
<text transform="translate(123.4,394.9) scale(1,1.045)" text-anchor="end">0.4</text>
<text transform="translate(123.4,275.9) scale(1,1.045)" text-anchor="end">0.6</text>
<text transform="translate(123.4,156.8) scale(1,1.045)" text-anchor="end">0.8</text>
<text transform="translate(138.0,664) scale(1,1.045)" text-anchor="middle">0</text>
<text transform="translate(307.3,664) scale(1,1.045)" text-anchor="middle">0.2</text>
<text transform="translate(476.6,664) scale(1,1.045)" text-anchor="middle">0.4</text>
<text transform="translate(645.9,664) scale(1,1.045)" text-anchor="middle">0.6</text>
<text transform="translate(815.2,664) scale(1,1.045)" text-anchor="middle">0.8</text>
</g>
<path fill="#000" d="M115.00,37.50 L110.30,37.50 L110.30,14.40 Q107.00,17.20 102.60,18.20 L102.60,13.60 Q108.50,10.80 111.60,5.80 L115.00,5.80 Z"/>
<path fill="#000" d="M989.20,663.75 L984.50,663.75 L984.50,640.65 Q981.20,643.45 976.80,644.45 L976.80,639.85 Q982.70,637.05 985.80,632.05 L989.20,632.05 Z"/>
<text transform="translate(565.5,717.1) scale(1,1.055)" text-anchor="middle" font-family="'Liberation Sans', sans-serif" font-size="49">SOC</text>
<text transform="translate(43.6,319.3) rotate(-90) scale(1,1.06)" text-anchor="middle" font-family="'Liberation Sans', sans-serif" font-size="48.6">Open Circuit Voltage V</text>
<rect x="457.3" y="97.1" width="62.5" height="7" fill="#00B1C4"/>
<circle cx="687.7" cy="100.6" r="10.6" fill="none" stroke="#00B1C4" stroke-width="6.8"/>
<text x="710.1" y="113.6" font-family="'Liberation Sans', sans-serif" font-size="37.6">Si Delithiation</text>
<text transform="translate(528.32,112.80) scale(0.919,1)" font-family="'Liberation Serif', serif" font-size="37.50" font-style="normal" stroke="#000" stroke-width="0.5">&#916;</text>
<path fill-rule="evenodd" fill="#000" d="M551.5,103.80 a10.5,8.9 0 1,0 21,0 a10.5,8.9 0 1,0 -21,0 Z M554.9,103.80 a7.2,7.2 0 1,0 14.4,0 a7.2,7.2 0 1,0 -14.4,0 Z"/>
<path d="M566.9,87.8 L558.9,119.6" stroke="#000" stroke-width="3.1" fill="none"/>
<text transform="translate(575.11,93.90) scale(1.163,1)" font-family="'Liberation Serif', serif" font-size="25.40" font-style="italic" stroke="#000" stroke-width="0.3">eq</text>
<text transform="translate(571.57,123.50) scale(1.110,1)" font-family="'Liberation Serif', serif" font-size="24.80" font-style="normal" stroke="#000" stroke-width="0.25">Si,Deli</text>
<rect x="457.3" y="162.3" width="62.5" height="7" fill="#0543DA"/>
<circle cx="687.7" cy="165.8" r="10.6" fill="none" stroke="#0543DA" stroke-width="6.8"/>
<text x="710.1" y="179.4" font-family="'Liberation Sans', sans-serif" font-size="37.6">Si Lithiation</text>
<text transform="translate(528.32,177.60) scale(0.919,1)" font-family="'Liberation Serif', serif" font-size="37.50" font-style="normal" stroke="#000" stroke-width="0.5">&#916;</text>
<path fill-rule="evenodd" fill="#000" d="M551.5,168.60 a10.5,8.9 0 1,0 21,0 a10.5,8.9 0 1,0 -21,0 Z M554.9,168.60 a7.2,7.2 0 1,0 14.4,0 a7.2,7.2 0 1,0 -14.4,0 Z"/>
<path d="M566.9,152.6 L558.9,184.4" stroke="#000" stroke-width="3.1" fill="none"/>
<text transform="translate(575.11,158.70) scale(1.163,1)" font-family="'Liberation Serif', serif" font-size="25.40" font-style="italic" stroke="#000" stroke-width="0.3">eq</text>
<text transform="translate(571.49,188.30) scale(1.044,1)" font-family="'Liberation Serif', serif" font-size="24.80" font-style="normal" stroke="#000" stroke-width="0.25">Si,Li</text>
<rect x="457.3" y="227.0" width="62.5" height="7" fill="#000000"/>
<circle cx="687.7" cy="230.5" r="10.6" fill="none" stroke="#000000" stroke-width="6.8"/>
<text x="710.1" y="243.8" font-family="'Liberation Sans', sans-serif" font-size="37.6">Graphite</text>
<text transform="translate(528.32,242.10) scale(0.919,1)" font-family="'Liberation Serif', serif" font-size="37.50" font-style="normal" stroke="#000" stroke-width="0.5">&#916;</text>
<path fill-rule="evenodd" fill="#000" d="M551.5,233.10 a10.5,8.9 0 1,0 21,0 a10.5,8.9 0 1,0 -21,0 Z M554.9,233.10 a7.2,7.2 0 1,0 14.4,0 a7.2,7.2 0 1,0 -14.4,0 Z"/>
<path d="M566.9,217.1 L558.9,248.9" stroke="#000" stroke-width="3.1" fill="none"/>
<text transform="translate(575.11,223.20) scale(1.163,1)" font-family="'Liberation Serif', serif" font-size="25.40" font-style="italic" stroke="#000" stroke-width="0.3">eq</text>
<text transform="translate(571.43,252.80) scale(1.077,1)" font-family="'Liberation Serif', serif" font-size="24.80" font-style="normal" stroke="#000" stroke-width="0.25">Gr</text>
<g fill="none" stroke="#ABA6A6" stroke-width="6.8">
<path d="M474,300.5 L394,270.5"/>
<path d="M658,372 L739,401"/>
<path d="M243.5,373.5 Q276,417 335,427" stroke-width="6.1"/>
<path d="M497,460.5 L578,477.5"/>
</g>
<polygon points="376.4,263.6 399.6,261.6 392,281" fill="#ABA6A6"/>
<polygon points="595,481 577,467.6 572.4,487.6" fill="#ABA6A6"/>
<text transform="translate(479.6,316.6) rotate(20)" font-family="'Liberation Sans', sans-serif" font-size="37.2" fill="#858585" stroke="#858585" stroke-width="0.45">Delithiation</text>
<text transform="translate(342.6,442.6) rotate(10)" font-family="'Liberation Sans', sans-serif" font-size="37.4" fill="#858585" stroke="#858585" stroke-width="0.45">Lithiation</text>
</svg>
</body></html>
